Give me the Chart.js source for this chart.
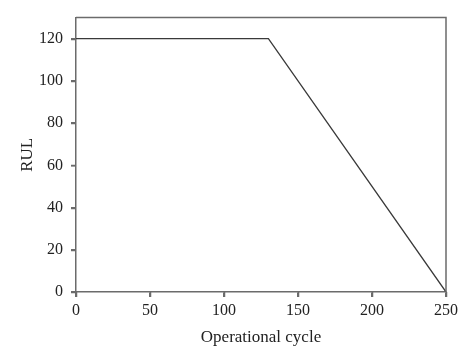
<!DOCTYPE html>
<html>
<head>
<meta charset="utf-8">
<script src="https://cdn.jsdelivr.net/npm/chart.js@4.4.1/dist/chart.umd.min.js"></script>
<style>
  html, body { margin: 0; padding: 0; background: #fff; }
  #wrap { width: 474px; height: 364px; }
</style>
</head>
<body>
<div id="wrap"><canvas id="rulChart" width="474" height="364"></canvas></div>
<script>
// RUL target curve: flat until cycle 130, then linear down to 0
const cycles = [0, 130, 250];
const rulValues = [120, 120, 0];
const xTicks = [0, 50, 100, 150, 200, 250];
const yTicks = [0, 20, 40, 60, 80, 100, 120];

const axisColor = '#6b6b6b';
const textColor = '#222';
const fontFamily = "'Liberation Serif', 'DejaVu Serif', serif";

// top/right edges of the box plus outward tick marks on the two axes
const frameBox = {
    id: 'frameBox',
    afterDraw(chart) {
        const { ctx, chartArea } = chart;
        const xs = chart.scales.x, ys = chart.scales.y;
        ctx.save();
        ctx.strokeStyle = axisColor;
        ctx.lineWidth = 1.5;
        ctx.beginPath();
        ctx.moveTo(chartArea.left, chartArea.top);
        ctx.lineTo(chartArea.right, chartArea.top);
        ctx.lineTo(chartArea.right, chartArea.bottom);
        xTicks.forEach(v => {
            const px = Math.round(xs.getPixelForValue(v)) + 0.5;
            ctx.moveTo(px, chartArea.bottom);
            ctx.lineTo(px, chartArea.bottom + 5);
        });
        yTicks.forEach(v => {
            const py = Math.round(ys.getPixelForValue(v)) + 0.5;
            ctx.moveTo(chartArea.left, py);
            ctx.lineTo(chartArea.left - 5, py);
        });
        ctx.stroke();
        ctx.restore();
    }
};

const gridOpts = {
    display: true,
    drawOnChartArea: false,
    drawTicks: true,
    tickLength: 5,
    tickColor: axisColor,
    tickWidth: 1.5,
    color: axisColor,
    lineWidth: 1.5
};

const ctx = document.getElementById('rulChart').getContext('2d');
new Chart(ctx, {
    type: 'scatter',
    data: {
        datasets: [{
            data: cycles.map((c, i) => ({ x: c, y: rulValues[i] })),
            showLine: true,
            borderColor: '#3a3a3a',
            borderWidth: 1.3,
            pointRadius: 0,
            fill: false
        }]
    },
    options: {
        responsive: false,
        animation: false,
        layout: { padding: { top: 16, right: 28, left: 0, bottom: 0 } },
        plugins: { legend: { display: false }, tooltip: { enabled: false } },
        scales: {
            x: {
                type: 'linear',
                min: 0,
                max: 250,
                afterBuildTicks: (axis) => { axis.ticks = xTicks.map(v => ({ value: v })); },
                afterFit: (axis) => { axis.height = 72; },
                grid: gridOpts,
                border: { display: true, color: axisColor, width: 1.5 },
                ticks: { color: textColor, font: { family: fontFamily, size: 16 }, padding: 4, maxRotation: 0 },
                title: { display: true, text: 'Operational cycle', color: textColor, font: { family: fontFamily, size: 17 }, padding: { top: 4, bottom: 16 } }
            },
            y: {
                type: 'linear',
                min: 0,
                max: 130,
                afterBuildTicks: (axis) => { axis.ticks = yTicks.map(v => ({ value: v })); },
                afterFit: (axis) => { axis.width = 76; },
                grid: gridOpts,
                border: { display: true, color: axisColor, width: 1.5 },
                ticks: { color: textColor, font: { family: fontFamily, size: 16 }, padding: 8 },
                title: { display: true, text: 'RUL', color: textColor, font: { family: fontFamily, size: 17 }, padding: { top: 17, bottom: 0 } }
            }
        }
    },
    plugins: [frameBox]
});
</script>
</body>
</html>
